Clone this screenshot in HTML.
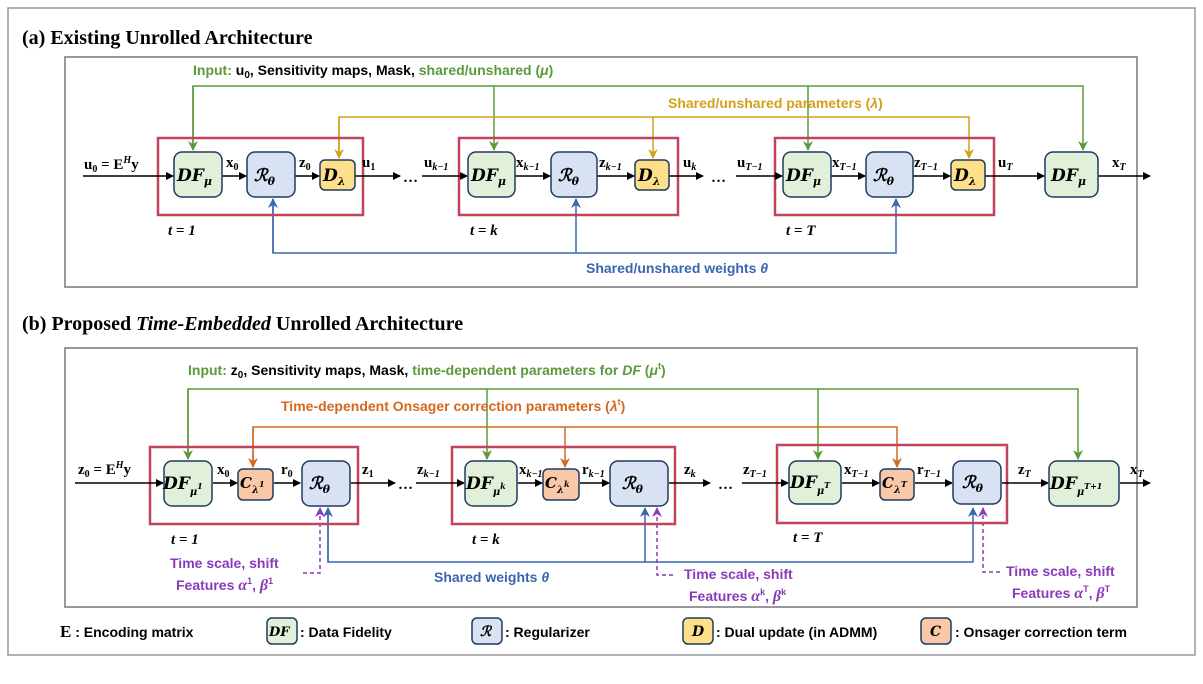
<!DOCTYPE html>
<html><head><meta charset="utf-8"><style>
html,body{margin:0;padding:0;background:#fff}
svg{display:block}
.t{font-family:"Liberation Serif",serif;font-weight:bold;font-size:20px}
.l{font-family:"Liberation Sans",sans-serif;font-weight:bold;font-size:14px}
.m{font-family:"Liberation Serif",serif;font-weight:bold;font-size:15px}
.bm{font-family:"DejaVu Serif","Liberation Serif",serif;font-weight:bold;font-style:italic;font-size:17px}
</style></head><body>
<svg width="1203" height="684" viewBox="0 0 1203 684" xmlns="http://www.w3.org/2000/svg">
<defs>
<marker id="ak" markerWidth="8" markerHeight="8" refX="7" refY="4" orient="auto" markerUnits="userSpaceOnUse"><path d="M0,0 L8,4 L0,8z" fill="#000"/></marker>
<marker id="ag" markerWidth="10" markerHeight="10" refX="5" refY="9" orient="0" markerUnits="userSpaceOnUse"><path d="M0,0 L5,10 L10,0 L5,3z" fill="#5a9a3a"/></marker>
<marker id="ao" markerWidth="10" markerHeight="10" refX="5" refY="9" orient="0" markerUnits="userSpaceOnUse"><path d="M0,0 L5,10 L10,0 L5,3z" fill="#d4a017"/></marker>
<marker id="ar" markerWidth="10" markerHeight="10" refX="5" refY="9" orient="0" markerUnits="userSpaceOnUse"><path d="M0,0 L5,10 L10,0 L5,3z" fill="#d2691e"/></marker>
<marker id="ab" markerWidth="10" markerHeight="10" refX="5" refY="1" orient="0" markerUnits="userSpaceOnUse"><path d="M0,10 L5,0 L10,10 L5,7z" fill="#3a66b0"/></marker>
<marker id="ap" markerWidth="10" markerHeight="10" refX="5" refY="1" orient="0" markerUnits="userSpaceOnUse"><path d="M0,10 L5,0 L10,10 L5,7z" fill="#8a3ab9"/></marker>
</defs>
<rect x="8" y="8" width="1187" height="647" fill="none" stroke="#999" stroke-width="1.5"/>
<text class="t" x="22" y="44">(a) Existing Unrolled Architecture</text>
<rect x="65" y="57" width="1072" height="230" fill="none" stroke="#999" stroke-width="2"/>
<text class="l" x="193" y="75"><tspan fill="#5a9a3a">Input: </tspan>u<tspan font-size="10" dy="3">0</tspan><tspan dy="-3">, Sensitivity maps, Mask, </tspan><tspan fill="#5a9a3a">shared/unshared (</tspan><tspan fill="#5a9a3a" font-style="italic">μ</tspan><tspan fill="#5a9a3a">)</tspan></text>
<g fill="none" stroke="#5a9a3a" stroke-width="1.5">
<path d="M193,150 V86 H1083 V150" marker-end="url(#ag)"/>
<path d="M494,86 V150" marker-end="url(#ag)"/><path d="M808,86 V150" marker-end="url(#ag)"/><path d="M193,86 V150" marker-end="url(#ag)"/>
</g>
<text class="l" x="668" y="108" fill="#d4a017">Shared/unshared parameters (<tspan font-style="italic">λ</tspan>)</text>
<g fill="none" stroke="#d4a017" stroke-width="1.5">
<path d="M339,158 V117 H969 V158" marker-end="url(#ao)"/><path d="M653,117 V158" marker-end="url(#ao)"/><path d="M339,117 V158" marker-end="url(#ao)"/>
</g>
<g fill="none" stroke="#3a66b0" stroke-width="1.5">
<path d="M273,199 V253 H896 V199" marker-end="url(#ab)"/><path d="M576,253 V199" marker-end="url(#ab)"/><path d="M273,253 V199" marker-end="url(#ab)"/>
</g>
<text class="l" x="586" y="273" fill="#3a66b0">Shared/unshared weights <tspan font-style="italic">θ</tspan></text>
<g fill="none" stroke="#c0455a" stroke-width="2.5">
<rect x="158" y="138" width="205" height="77"/><rect x="459" y="138" width="219" height="77"/><rect x="775" y="138" width="219" height="77"/>
</g>
<g stroke="#000" stroke-width="1.5" marker-end="url(#ak)">
<line x1="83" y1="176" x2="173" y2="176"/><line x1="222" y1="176" x2="246" y2="176"/><line x1="295" y1="176" x2="319" y2="176"/><line x1="355" y1="176" x2="400" y2="176"/>
<line x1="422" y1="176" x2="467" y2="176"/><line x1="515" y1="176" x2="550" y2="176"/><line x1="597" y1="176" x2="634" y2="176"/><line x1="669" y1="176" x2="703" y2="176"/>
<line x1="736" y1="176" x2="782" y2="176"/><line x1="831" y1="176" x2="865" y2="176"/><line x1="913" y1="176" x2="950" y2="176"/><line x1="985" y1="176" x2="1044" y2="176"/>
<line x1="1098" y1="176" x2="1150" y2="176"/>
</g>
<g class="m" fill="#000">
<text x="84" y="169">u<tspan font-size="10" dy="3">0</tspan><tspan dy="-3"> = E</tspan><tspan font-size="10" dy="-6" font-style="italic">H</tspan><tspan dy="6">y</tspan></text>
<text x="226" y="167">x<tspan font-size="10" dy="3">0</tspan></text><text x="299" y="167">z<tspan font-size="10" dy="3">0</tspan></text><text x="362" y="167">u<tspan font-size="10" dy="3">1</tspan></text>
<text x="403" y="182">…</text><text x="424" y="167">u<tspan font-size="10" dy="3" font-style="italic">k−1</tspan></text>
<text x="516" y="167">x<tspan font-size="10" dy="3" font-style="italic">k−1</tspan></text><text x="599" y="167">z<tspan font-size="10" dy="3" font-style="italic">k−1</tspan></text><text x="683" y="167">u<tspan font-size="10" dy="3" font-style="italic">k</tspan></text>
<text x="711" y="182">…</text><text x="737" y="167">u<tspan font-size="10" dy="3" font-style="italic">T−1</tspan></text>
<text x="832" y="167">x<tspan font-size="10" dy="3" font-style="italic">T−1</tspan></text><text x="914" y="167">z<tspan font-size="10" dy="3" font-style="italic">T−1</tspan></text><text x="998" y="167">u<tspan font-size="10" dy="3" font-style="italic">T</tspan></text>
<text x="1112" y="167">x<tspan font-size="10" dy="3" font-style="italic">T</tspan></text>
<text x="168" y="235" font-style="italic">t = 1</text><text x="470" y="235" font-style="italic">t = k</text><text x="786" y="235" font-style="italic">t = T</text>
</g>
<g stroke="#1f3a5f" stroke-width="1.5">
<rect x="174" y="152" width="48" height="45" rx="8" fill="#e2efd9"/><rect x="247" y="152" width="48" height="45" rx="8" fill="#d9e2f3"/><rect x="320" y="160" width="35" height="30" rx="5" fill="#ffe08a"/>
<rect x="468" y="152" width="47" height="45" rx="8" fill="#e2efd9"/><rect x="551" y="152" width="46" height="45" rx="8" fill="#d9e2f3"/><rect x="635" y="160" width="34" height="30" rx="5" fill="#ffe08a"/>
<rect x="783" y="152" width="48" height="45" rx="8" fill="#e2efd9"/><rect x="866" y="152" width="47" height="45" rx="8" fill="#d9e2f3"/><rect x="951" y="160" width="34" height="30" rx="5" fill="#ffe08a"/>
<rect x="1045" y="152" width="53" height="45" rx="8" fill="#e2efd9"/>
</g>
<g class="bm" fill="#000">
<text x="177" y="181">DF<tspan font-size="11" dy="4">μ</tspan></text><text x="254" y="181">ℛ<tspan font-size="11" dy="4">θ</tspan></text><text x="323" y="181">D<tspan font-size="11" dy="4">λ</tspan></text>
<text x="471" y="181">DF<tspan font-size="11" dy="4">μ</tspan></text><text x="558" y="181">ℛ<tspan font-size="11" dy="4">θ</tspan></text><text x="638" y="181">D<tspan font-size="11" dy="4">λ</tspan></text>
<text x="786" y="181">DF<tspan font-size="11" dy="4">μ</tspan></text><text x="873" y="181">ℛ<tspan font-size="11" dy="4">θ</tspan></text><text x="954" y="181">D<tspan font-size="11" dy="4">λ</tspan></text>
<text x="1051" y="181">DF<tspan font-size="11" dy="4">μ</tspan></text>
</g>

<text class="t" x="22" y="330">(b) Proposed <tspan font-style="italic">Time-Embedded</tspan> Unrolled Architecture</text>
<rect x="65" y="348" width="1072" height="259" fill="none" stroke="#999" stroke-width="2"/>
<text class="l" x="188" y="375"><tspan fill="#5a9a3a">Input: </tspan>z<tspan font-size="10" dy="3">0</tspan><tspan dy="-3">, Sensitivity maps, Mask, </tspan><tspan fill="#5a9a3a">time-dependent parameters for <tspan font-style="italic">DF</tspan> (<tspan font-style="italic">μ</tspan><tspan font-size="9" dy="-6">t</tspan><tspan dy="6">)</tspan></tspan></text>
<g fill="none" stroke="#5a9a3a" stroke-width="1.5">
<path d="M188,459 V389 H1078 V459" marker-end="url(#ag)"/><path d="M487,389 V459" marker-end="url(#ag)"/><path d="M818,389 V459" marker-end="url(#ag)"/><path d="M188,389 V459" marker-end="url(#ag)"/>
</g>
<text class="l" x="281" y="411" fill="#d2691e">Time-dependent Onsager correction parameters (<tspan font-style="italic">λ</tspan><tspan font-size="9" dy="-6">t</tspan><tspan dy="6">)</tspan></text>
<g fill="none" stroke="#d2691e" stroke-width="1.5">
<path d="M253,467 V427 H897 V467" marker-end="url(#ar)"/><path d="M565,427 V467" marker-end="url(#ar)"/><path d="M253,427 V467" marker-end="url(#ar)"/>
</g>
<g fill="none" stroke="#3a66b0" stroke-width="1.5">
<path d="M328,508 V562 H973 V508" marker-end="url(#ab)"/><path d="M645,562 V508" marker-end="url(#ab)"/><path d="M328,562 V508" marker-end="url(#ab)"/>
</g>
<text class="l" x="434" y="582" fill="#3a66b0">Shared weights <tspan font-style="italic">θ</tspan></text>
<g fill="none" stroke="#8a3ab9" stroke-width="1.5" stroke-dasharray="4,3">
<path d="M303,573 H320 V508" marker-end="url(#ap)"/><path d="M673,575 H657 V508" marker-end="url(#ap)"/><path d="M1000,572 H983 V508" marker-end="url(#ap)"/>
</g>
<g class="l" fill="#8a3ab9">
<text x="170" y="568">Time scale, shift</text><text x="176" y="590">Features <tspan font-family="Liberation Serif" font-style="italic" font-size="16">α</tspan><tspan font-size="9" dy="-6">1</tspan><tspan dy="6">, </tspan><tspan font-family="Liberation Serif" font-style="italic" font-size="16">β</tspan><tspan font-size="9" dy="-6">1</tspan></text>
<text x="684" y="579">Time scale, shift</text><text x="689" y="601">Features <tspan font-family="Liberation Serif" font-style="italic" font-size="16">α</tspan><tspan font-size="9" dy="-6">k</tspan><tspan dy="6">, </tspan><tspan font-family="Liberation Serif" font-style="italic" font-size="16">β</tspan><tspan font-size="9" dy="-6">k</tspan></text>
<text x="1006" y="576">Time scale, shift</text><text x="1012" y="598">Features <tspan font-family="Liberation Serif" font-style="italic" font-size="16">α</tspan><tspan font-size="9" dy="-6">T</tspan><tspan dy="6">, </tspan><tspan font-family="Liberation Serif" font-style="italic" font-size="16">β</tspan><tspan font-size="9" dy="-6">T</tspan></text>
</g>
<g fill="none" stroke="#c0455a" stroke-width="2.5">
<rect x="150" y="447" width="208" height="77"/><rect x="452" y="447" width="223" height="77"/><rect x="777" y="445" width="230" height="78"/>
</g>
<g stroke="#000" stroke-width="1.5" marker-end="url(#ak)">
<line x1="75" y1="483" x2="163" y2="483"/><line x1="213" y1="483" x2="237" y2="483"/><line x1="274" y1="483" x2="300" y2="483"/><line x1="351" y1="483" x2="395" y2="483"/>
<line x1="416" y1="483" x2="464" y2="483"/><line x1="518" y1="483" x2="542" y2="483"/><line x1="580" y1="483" x2="609" y2="483"/><line x1="669" y1="483" x2="710" y2="483"/>
<line x1="742" y1="483" x2="788" y2="483"/><line x1="842" y1="483" x2="879" y2="483"/><line x1="915" y1="483" x2="952" y2="483"/><line x1="1002" y1="483" x2="1048" y2="483"/>
<line x1="1120" y1="483" x2="1150" y2="483"/>
</g>
<g class="m" fill="#000">
<text x="78" y="474">z<tspan font-size="10" dy="3">0</tspan><tspan dy="-3"> = E</tspan><tspan font-size="10" dy="-6" font-style="italic">H</tspan><tspan dy="6">y</tspan></text>
<text x="217" y="474">x<tspan font-size="10" dy="3">0</tspan></text><text x="281" y="474">r<tspan font-size="10" dy="3">0</tspan></text><text x="362" y="474">z<tspan font-size="10" dy="3">1</tspan></text>
<text x="398" y="489">…</text><text x="417" y="474">z<tspan font-size="10" dy="3" font-style="italic">k−1</tspan></text>
<text x="519" y="474">x<tspan font-size="10" dy="3" font-style="italic">k−1</tspan></text><text x="582" y="474">r<tspan font-size="10" dy="3" font-style="italic">k−1</tspan></text><text x="684" y="474">z<tspan font-size="10" dy="3" font-style="italic">k</tspan></text>
<text x="718" y="489">…</text><text x="743" y="474">z<tspan font-size="10" dy="3" font-style="italic">T−1</tspan></text>
<text x="844" y="474">x<tspan font-size="10" dy="3" font-style="italic">T−1</tspan></text><text x="917" y="474">r<tspan font-size="10" dy="3" font-style="italic">T−1</tspan></text><text x="1018" y="474">z<tspan font-size="10" dy="3" font-style="italic">T</tspan></text>
<text x="1130" y="474">x<tspan font-size="10" dy="3" font-style="italic">T</tspan></text>
<text x="171" y="544" font-style="italic">t = 1</text><text x="472" y="544" font-style="italic">t = k</text><text x="793" y="542" font-style="italic">t = T</text>
</g>
<g stroke="#1f3a5f" stroke-width="1.5">
<rect x="164" y="461" width="48" height="45" rx="8" fill="#e2efd9"/><rect x="238" y="469" width="35" height="31" rx="5" fill="#f8c8a8"/><rect x="302" y="461" width="48" height="45" rx="8" fill="#d9e2f3"/>
<rect x="465" y="461" width="52" height="45" rx="8" fill="#e2efd9"/><rect x="543" y="469" width="36" height="31" rx="5" fill="#f8c8a8"/><rect x="610" y="461" width="58" height="45" rx="8" fill="#d9e2f3"/>
<rect x="789" y="461" width="52" height="43" rx="8" fill="#e2efd9"/><rect x="880" y="469" width="34" height="31" rx="5" fill="#f8c8a8"/><rect x="953" y="461" width="48" height="43" rx="8" fill="#d9e2f3"/>
<rect x="1049" y="461" width="70" height="45" rx="8" fill="#e2efd9"/>
</g>
<g class="bm" fill="#000">
<text x="163" y="489">DF<tspan font-size="10" dy="6">μ</tspan><tspan font-size="8" dy="-6">1</tspan></text>
<text x="240" y="488" font-size="15">C<tspan font-size="10" dy="5">λ</tspan><tspan font-size="8" dy="-6">1</tspan></text>
<text x="309" y="489">ℛ<tspan font-size="11" dy="4">θ</tspan></text>
<text x="466" y="489">DF<tspan font-size="10" dy="6">μ</tspan><tspan font-size="8" dy="-6">k</tspan></text>
<text x="545" y="488" font-size="15">C<tspan font-size="10" dy="5">λ</tspan><tspan font-size="8" dy="-6">k</tspan></text>
<text x="622" y="489">ℛ<tspan font-size="11" dy="4">θ</tspan></text>
<text x="790" y="488">DF<tspan font-size="10" dy="6">μ</tspan><tspan font-size="8" dy="-6">T</tspan></text>
<text x="882" y="488" font-size="15">C<tspan font-size="10" dy="5">λ</tspan><tspan font-size="8" dy="-6">T</tspan></text>
<text x="962" y="488">ℛ<tspan font-size="11" dy="4">θ</tspan></text>
<text x="1050" y="489">DF<tspan font-size="10" dy="6">μ</tspan><tspan font-size="8" dy="-6">T+1</tspan></text>
</g>

<g class="l" fill="#000">
<text x="60" y="637"><tspan font-family="Liberation Serif" font-size="17">E</tspan> : Encoding matrix</text>
<text x="300" y="637">: Data Fidelity</text>
<text x="505" y="637">: Regularizer</text>
<text x="716" y="637">: Dual update (in ADMM)</text>
<text x="955" y="637">: Onsager correction term</text>
</g>
<g stroke="#1f3a5f" stroke-width="1.5">
<rect x="267" y="618" width="30" height="26" rx="5" fill="#e2efd9"/><rect x="472" y="618" width="30" height="26" rx="5" fill="#d9e2f3"/>
<rect x="683" y="618" width="30" height="26" rx="5" fill="#ffe08a"/><rect x="921" y="618" width="30" height="26" rx="5" fill="#f8c8a8"/>
</g>
<g class="bm" fill="#000" font-size="13">
<text x="269" y="636" font-size="13">DF</text><text x="480" y="636" font-size="14">ℛ</text><text x="692" y="636" font-size="14">D</text><text x="930" y="636" font-size="14">C</text>
</g>
</svg>
</body></html>
